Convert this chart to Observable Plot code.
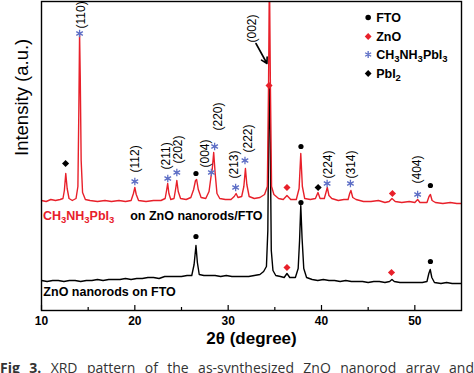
<!DOCTYPE html>
<html><head><meta charset="utf-8">
<script src="https://cdn.jsdelivr.net/npm/d3@7"></script>
<script src="https://cdn.jsdelivr.net/npm/@observablehq/plot@0.6"></script>
<style>
body{margin:0;background:#fff;width:474px;height:373px;overflow:hidden;}
#chart svg{display:block;}
#caption{font-family:"Open Sans",sans-serif;font-size:14px;color:#333;line-height:18px;text-align:justify;text-align-last:justify;white-space:nowrap;width:474px;}
</style></head>
<body>
<div id="chart"></div>
<div id="caption"><b>Fig 3.</b> XRD pattern of the as-synthesized ZnO nanorod array and</div>
<script>
// 2θ positions and intensities (a.u.)
const redTheta = [10.0,10.5,11.0,11.5,12.0,12.3,12.45,12.6,12.75,12.95,13.3,13.7,13.9,14.0,14.08,14.15,14.25,14.4,14.7,15.2,16.0,16.8,17.5,18.3,19.0,19.6,19.85,20.0,20.15,20.4,21.2,22.0,22.8,23.25,23.4,23.52,23.65,23.85,24.2,24.38,24.5,24.65,24.9,25.5,26.0,26.3,26.5,26.62,26.8,27.1,27.6,27.95,28.15,28.3,28.45,28.6,28.8,29.1,29.7,30.3,30.65,30.85,31.05,31.45,31.68,31.85,32.0,32.25,32.8,33.4,33.9,34.2,34.33,34.42,34.52,34.65,34.9,35.4,35.9,36.3,36.7,37.3,37.6,37.78,37.95,38.2,38.8,39.35,39.62,39.85,40.3,40.48,40.62,40.8,41.1,41.8,42.4,42.85,43.02,43.15,43.35,43.7,44.5,45.3,46.1,46.8,47.25,47.55,47.9,48.6,49.4,50.0,50.3,50.55,51.3,51.52,51.67,51.85,52.2,53.0,53.8,54.5,55.0];
const redIntensity = [110,109,111,110,111,112,120,137,122,112,110,112,124,200,277,235,150,118,111,110,109,110,109,110,109,110,117,123,116,110,109,110,110,112,120,127,117,111,112,122,130,119,112,111,113,121,130,131,121,113,112,119,133,142,158,138,117,112,111,111,114,117,113,114,124,142,126,114,112,113,116,124,230,340,230,124,116,112,111,115,111,111,122,157,124,112,111,112,118,112,112,118,123,115,112,110,111,111,117,120,113,111,109,109,110,108,109,112,109,108,109,108,111,108,108,114,116,110,108,107,108,107,107];

const blackTheta = [10.0,10.6,11.2,11.8,12.4,13.0,13.6,14.2,14.8,15.4,16.0,16.6,17.2,17.8,18.4,19.0,19.6,20.2,20.8,21.4,22.0,22.6,23.2,23.8,24.4,25.0,25.6,26.1,26.35,26.55,26.7,26.9,27.4,28.0,28.6,29.2,29.8,30.4,31.0,31.6,32.2,32.8,33.4,33.8,34.1,34.25,34.35,34.42,34.5,34.62,34.8,35.1,35.6,36.0,36.3,36.6,37.2,37.5,37.65,37.78,37.92,38.1,38.4,39.0,39.6,40.2,40.8,41.4,42.0,42.6,43.2,43.8,44.4,45.0,45.6,46.2,46.8,47.3,47.55,47.8,48.4,49.0,49.6,50.2,50.8,51.3,51.5,51.65,51.82,52.1,52.8,53.4,54.0,54.6,55.0];
const blackIntensity = [30,29,30,30,29,30,30,29,30,30,31,30,31,31,31,32,31,32,32,33,33,32,34,34,34,34,35,35,46,65,48,36,35,35,35,34,35,34,34,34,34,35,36,39,44,80,190,222,180,60,40,35,34,33,37,33,33,42,70,105,72,42,33,31,30,31,30,30,29,30,29,29,29,28,29,29,28,29,31,29,28,28,28,28,28,29,37,41,33,28,27,28,27,27,27];

// phase markers [2θ, intensity]
const ftoMarks = [[26.55,137],[37.8,164],[51.67,125],[26.55,74],[37.8,108],[51.67,49]];
const znoMarks = [[34.38,225],[36.3,123],[47.6,117],[36.3,43],[47.5,38]];
const perovskiteMarks = [[14.08,277],[20.0,129],[23.53,132],[24.5,138],[28.2,138],[28.55,164],[30.8,123],[31.8,150],[40.6,127],[43.1,127],[50.3,116]];
const pbi2Marks = [[12.58,147],[39.64,123]];

// Miller index labels [label, 2θ, intensity at label start]
const hklLabels = [["(110)",14.3,282],["(112)",19.99,138],["(211)",23.32,141],["(202)",24.6,147],["(004)",27.5,143],["(220)",28.9,180],["(213)",30.6,132],["(222)",32.1,158],["(002)",32.55,268],["(224)",40.7,132],["(314)",43.2,132],["(404)",50.3,127]];
const arrow002 = [[32.98,267,34.16,247]];

// legend entries
const legendNames = ["FTO","ZnO","CH3NH3PbI3","PbI2"];
const legendY = [293,274,256,237];
const legendX = 45.0;

const xMajorTicks = [10,20,30,40,50];
const xMinorTicks = [15,25,35,45];

const RED = "#e8202a", BLUE = "#5e6fc6";
const pts = a => a.map(([x,y]) => ({x, y}));
const red = redTheta.map((t,i) => ({x:t, y:redIntensity[i]}));
const black = blackTheta.map((t,i) => ({x:t, y:blackIntensity[i]}));
const hkl = hklLabels.map(([label,x,y]) => ({label,x,y}));
const legend = legendNames.map((name,i) => ({name, x: legendX, y: legendY[i]}));

const chart = Plot.plot({
  width: 474, height: 359,
  marginTop: 1, marginLeft: 41, marginRight: 13, marginBottom: 49,
  x: {domain: [10, 55]},
  y: {domain: [0, 309], axis: null},
  style: {fontFamily: "'Liberation Sans', Arial, sans-serif", background: "white", color: "black", overflow: "visible"},
  marks: [
    Plot.line(black, {x: "x", y: "y", stroke: "black", strokeWidth: 1.4, clip: true}),
    Plot.line(red, {x: "x", y: "y", stroke: RED, strokeWidth: 1.4, clip: true}),
    Plot.dot(pts(ftoMarks), {x: "x", y: "y", r: 2.6, fill: "black", symbol: "circle"}),
    Plot.dot(pts(znoMarks), {x: "x", y: "y", r: 3.2, fill: RED, symbol: "diamond2"}),
    Plot.dot(pts(pbi2Marks), {x: "x", y: "y", r: 3.2, fill: "black", symbol: "diamond2"}),
    Plot.dot(pts(perovskiteMarks), {x: "x", y: "y", r: 3.6, stroke: BLUE, strokeWidth: 1.3, symbol: "asterisk"}),
    Plot.text(hkl, {x: "x", y: "y", text: "label", rotate: -90, textAnchor: "start", fontSize: 12, fill: "black"}),
    Plot.arrow(arrow002, {x1: d => d[0], y1: d => d[1], x2: d => d[2], y2: d => d[3], stroke: "black", strokeWidth: 1.6, headLength: 6}),
    // legend
    Plot.dot(legend, {x: "x", y: "y", r: d => d.name === "FTO" ? 2.6 : d.name === "CH3NH3PbI3" ? 3.6 : 3.2,
      symbol: d => d.name === "FTO" ? "circle" : d.name === "CH3NH3PbI3" ? "asterisk" : "diamond2",
      fill: d => d.name === "CH3NH3PbI3" ? "none" : d.name === "ZnO" ? RED : "black",
      stroke: d => d.name === "CH3NH3PbI3" ? BLUE : "none", strokeWidth: 1.3}),
    Plot.text(legend, {x: "x", y: "y", text: "name", dx: 8, textAnchor: "start", fontSize: 12.5, fontWeight: "bold", fill: "black"}),
    // series labels
    Plot.text([{t: "CH3NH3PbI3", x: 10.15, y: 95}], {x: "x", y: "y", text: "t", textAnchor: "start", fontSize: 12.5, fontWeight: "bold", fill: RED}),
    Plot.text([{t: "on ZnO nanorods/FTO", x: 19.5, y: 95}], {x: "x", y: "y", text: "t", textAnchor: "start", fontSize: 12.5, fontWeight: "bold", fill: "black"}),
    Plot.text([{t: "ZnO nanorods on FTO", x: 10.2, y: 19}], {x: "x", y: "y", text: "t", textAnchor: "start", fontSize: 12.5, fontWeight: "bold", fill: "black"}),
    // axes
    Plot.axisX({ticks: xMinorTicks, tickSize: -3, fill: "none", label: null, strokeWidth: 1.2}),
    Plot.axisX({ticks: xMajorTicks, tickSize: -5, tickPadding: 11, label: null, fontSize: 12, fontWeight: "bold", strokeWidth: 1.2, tickFormat: d => String(d)}),
    Plot.text(["2θ (degree)"], {frameAnchor: "bottom", dy: 33, fontSize: 17, fontWeight: "bold"}),
    Plot.text(["Intensity (a.u.)"], {frameAnchor: "left", dx: -19, rotate: -90, fontSize: 18.5}),
    Plot.frame({stroke: "black", strokeWidth: 1.4})
  ]
});
document.getElementById("chart").appendChild(chart);

// chemical formula subscripts
const SUBS = new Set(["CH3NH3PbI3", "PbI2"]);
d3.select(chart).selectAll("text").each(function() {
  const el = this;
  if (el.querySelector("tspan")) return;
  const s = el.textContent;
  if (!SUBS.has(s)) return;
  el.textContent = "";
  const parts = s.match(/\d+|\D+/g);
  let shifted = false;
  for (const p of parts) {
    const ts = document.createElementNS("http://www.w3.org/2000/svg", "tspan");
    ts.textContent = p;
    if (/\d/.test(p)) { ts.setAttribute("dy", "3.5"); ts.setAttribute("font-size", "9.5"); shifted = true; }
    else if (shifted) { ts.setAttribute("dy", "-3.5"); shifted = false; }
    el.appendChild(ts);
  }
});
</script>
</body></html>
